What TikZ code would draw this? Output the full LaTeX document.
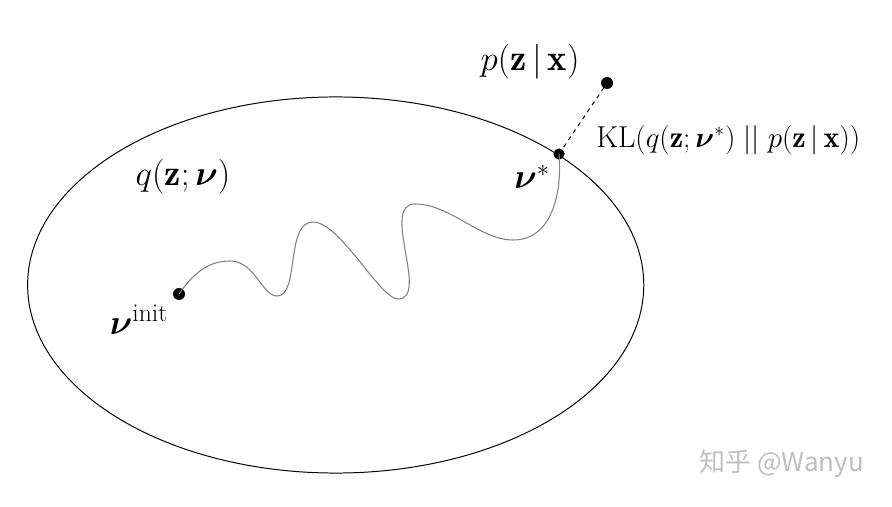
\documentclass[tikz,border=0pt]{standalone}
\usepackage{amsmath,bm}
\usepackage{fontspec}
\newfontfamily\cjkfont{Noto Sans CJK SC}
\tikzset{
  dotnode/.style={circle,fill=black,inner sep=0pt,minimum size=0.3cm},
  path/.style={draw=black!50,line width=0.75pt},
  biglabel/.style={font=\fontsize{26}{30}\selectfont,inner sep=0pt},
  midlabel/.style={font=\fontsize{21.5}{26}\selectfont,inner sep=0pt},
}
\begin{document}
\begin{tikzpicture}[x=0.025cm,y=0.025cm]
\useasboundingbox (0,0) rectangle (892,506);
\draw[line width=0.7pt] (335.7,221) ellipse [x radius=7.7cm, y radius=4.7cm];
\node[dotnode] (init) at (179,212) {};
\node[dotnode,minimum size=0.28cm] (vstar) at (559,352) {};
\node[dotnode] (p) at (607,423) {};
\draw[path] (init.center) .. controls (195,235) and (210,245) .. (230,245)
  .. controls (255,245) and (262,210) .. (277,210)
  .. controls (300,210) and (285,284) .. (313,284)
  .. controls (340,284) and (380,207) .. (398,207)
  .. controls (430,207) and (380,302) .. (415,302)
  .. controls (450,302) and (480,266) .. (513,266)
  .. controls (555,266) and (562,320) .. (vstar.center);
\draw[dashed,line width=0.7pt] (vstar.center) -- (p.center);
\node[biglabel] (plabel) at (530,444) {$p(\mathbf{z}\,|\,\mathbf{x})$};
\node[biglabel] (qlabel) at (183,329) {$q(\mathbf{z};\bm{\nu})$};
\node[biglabel] (vslabel) at (532,329) {$\bm{\nu}^*$};
\node[biglabel] (vilabel) at (139,186) {$\bm{\nu}^{\text{init}}$};
\node[midlabel,anchor=west] (kl) at (596,366) {$\mathrm{KL}(q(\mathbf{z};\bm{\nu}^*)\;||\;p(\mathbf{z}\,|\,\mathbf{x}))$};
\node[font=\cjkfont\fontsize{18.5}{22}\selectfont,text=black!25,anchor=west,inner sep=0pt] (wm) at (699,42) {知乎 @Wanyu};
\end{tikzpicture}
\end{document}
